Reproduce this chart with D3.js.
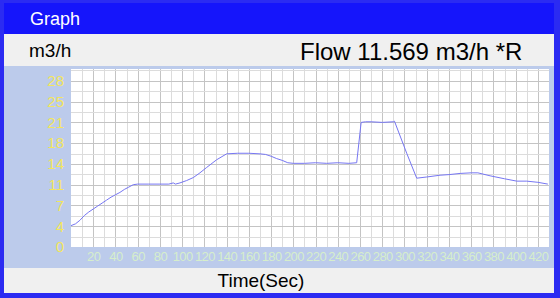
<!DOCTYPE html>
    <head>
        <meta charset="utf-8">
        <title>Graph</title>
        <script src='https://cdnjs.cloudflare.com/ajax/libs/d3/7.8.5/d3.min.js'></script>
        <style type="text/css" media="screen">
          body {
            margin: 0;
            background: #2b2bf2;
          }
          text {
            font-family: 'Liberation Sans', Arial, sans-serif;
          }
        </style>
    </head>
    <body>
      <script>
        var w = 560;
        var h = 298;

        var times = [0, 4, 8, 12, 16, 20, 24, 28, 32, 36, 40, 44, 48, 52, 56, 60, 70, 80, 88, 92, 94, 98,
                     104, 110, 116, 122, 131, 140, 150, 160, 170, 175, 180, 185, 190, 195, 200, 210, 220,
                     230, 240, 250, 257, 261, 265, 270, 280, 290, 291, 302, 311, 320, 332, 340, 350, 360,
                     366, 377, 390, 401, 410, 420, 429];
        var flow = [3.6, 3.9, 4.5, 5.3, 5.9, 6.4, 6.9, 7.4, 7.9, 8.4, 8.8, 9.2, 9.7, 10.1, 10.5, 10.6, 10.6, 10.6, 10.6, 10.8, 10.6, 10.8,
                    11.2, 11.7, 12.5, 13.4, 14.7, 15.7, 15.8, 15.8, 15.7, 15.6, 15.3, 14.9, 14.6, 14.2, 14.1, 14.1, 14.2,
                    14.1, 14.2, 14.1, 14.2, 21.0, 21.1, 21.1, 21.0, 21.1, 21.2, 15.8, 11.6, 11.8, 12.1, 12.2, 12.4, 12.5,
                    12.5, 12.0, 11.5, 11.1, 11.1, 10.9, 10.6];

        var xTicks = [20, 40, 60, 80, 100, 120, 140, 160, 180, 200, 220, 240, 260, 280, 300, 320, 340, 360, 380, 400, 420];
        var yTicks = [0, 3.5, 7, 10.5, 14, 17.5, 21, 24.5, 28];

        var svg = d3.select('body')
                    .append('svg')
                      .attr('width', w)
                      .attr('height', h)
                      .style('display', 'block')

        // frame and bands
        svg.append('rect').attr('x', 0).attr('y', 0).attr('width', w).attr('height', h).attr('fill', '#2b2bf2')
        svg.append('rect').attr('x', 4).attr('y', 3).attr('width', 550).attr('height', 31).attr('fill', '#1515fb')
        svg.append('rect').attr('x', 4).attr('y', 34).attr('width', 550).attr('height', 32).attr('fill', '#f0f0f0')
        svg.append('rect').attr('x', 4).attr('y', 66).attr('width', 550).attr('height', 202).attr('fill', '#bccbeb')
        svg.append('rect').attr('x', 4).attr('y', 268).attr('width', 550).attr('height', 25).attr('fill', '#f0f0f0')

        svg.append('text').attr('x', 30).attr('y', 25).attr('fill', '#fff').attr('font-size', 18).text('Graph')
        svg.append('text').attr('x', 29).attr('y', 57).attr('fill', '#000').attr('font-size', 19).text('m3/h')
        svg.append('text').attr('x', 300).attr('y', 60).attr('fill', '#000').attr('font-size', 24).text('Flow 11.569 m3/h *R')
        svg.append('text').attr('x', 261).attr('y', 287).attr('fill', '#000').attr('font-size', 19)
           .attr('text-anchor', 'middle').text('Time(Sec)')

        var x = d3.scaleLinear().domain([0, 430]).range([71, 549]);
        var y = d3.scaleLinear().domain([0, 30]).range([247, 69]);

        svg.append('rect')
           .attr('x', x(0)).attr('y', y(30))
           .attr('width', x(430) - x(0)).attr('height', y(0) - y(30))
           .attr('fill', '#fff')

        // grid: every 10 sec / every 1.75 m3/h, darker on every second line
        svg.selectAll('.vgrid')
           .data(d3.range(10, 430, 10))
           .enter()
           .append('line')
             .attr('x1', function(d) { return Math.round(x(d)) + 0.5 })
             .attr('x2', function(d) { return Math.round(x(d)) + 0.5 })
             .attr('y1', y(30)).attr('y2', y(0))
             .attr('stroke', function(d) { return d % 20 === 0 ? '#c4c4c4' : '#dcdcdc' })

        svg.selectAll('.hgrid')
           .data(d3.range(1, 18))
           .enter()
           .append('line')
             .attr('y1', function(d) { return Math.round(y(d * 1.75)) + 0.5 })
             .attr('y2', function(d) { return Math.round(y(d * 1.75)) + 0.5 })
             .attr('x1', x(0)).attr('x2', x(430))
             .attr('stroke', function(d) { return d % 2 === 0 ? '#c4c4c4' : '#dcdcdc' })

        // axes
        var yAxis = svg.append('g')
           .attr('transform', 'translate(' + (x(0) - 7) + ',0)')
           .call(d3.axisLeft(y).tickValues(yTicks).tickSize(0).tickPadding(0)
                   .tickFormat(function(d) { return Math.round(d) }))
        yAxis.select('.domain').remove()
        yAxis.selectAll('text').attr('fill', '#f3e65c').attr('font-size', 15).attr('font-family', null)

        var xAxis = svg.append('g')
           .attr('transform', 'translate(0,' + (y(0) + 5) + ')')
           .call(d3.axisBottom(x).tickValues(xTicks).tickSize(0).tickPadding(0))
        xAxis.select('.domain').remove()
        xAxis.selectAll('text').attr('fill', '#d6eecb').attr('font-size', 13)
             .attr('letter-spacing', -0.6).attr('font-family', null)

        var line = d3.line()
                     .x(function(d, i) { return x(times[i]) })
                     .y(function(d) { return y(d) })

        svg.append('path')
           .datum(flow)
           .attr('d', line)
           .attr('fill', 'none')
           .attr('stroke', '#7676f2')
           .attr('stroke-width', 1)

      </script>
    </body>
</html>
